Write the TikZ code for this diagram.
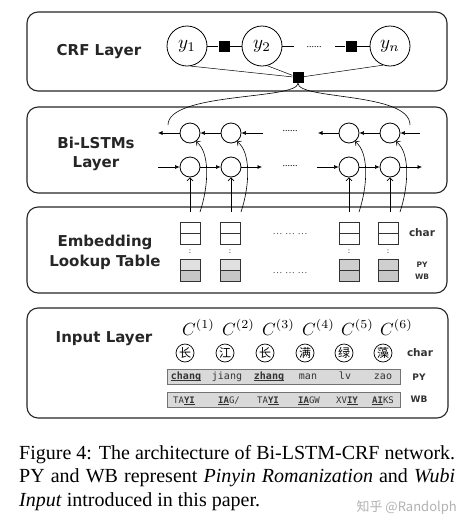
\documentclass[tikz,border=0pt]{standalone}
\usepackage{fontspec}
\setmainfont{Liberation Serif}
\newfontfamily\headfont{DejaVu Sans}
\newfontfamily\codefont{DejaVu Sans Mono}
\newfontfamily\cjkfont{Noto Sans CJK SC}
\usetikzlibrary{arrows.meta}
\newcommand\ulb[1]{\underline{\smash{\textbf{#1}}}}
\newcommand\ylab[1]{\scalebox{1.9}{$#1$}}
\begin{document}
\begin{tikzpicture}[x=1pt,y=-1pt,
  layer/.style={draw=black!85, line width=1.1pt, rounded corners=11pt, inner sep=0},
  ttl/.style={font=\headfont\bfseries\fontsize{15}{18.5}\selectfont, text=black!85, align=center, inner sep=0},
  ynode/.style={circle, draw, line width=0.8pt, minimum size=40pt, inner sep=0},
  fac/.style={fill=black, minimum size=11pt, inner sep=0},
  lstm/.style={circle, draw, line width=0.8pt, minimum size=20pt, inner sep=0},
  harr/.style={-{Latex[length=4.5pt,width=4pt]}, line width=0.6pt},
  varr/.style={-{Straight Barb[length=3pt,width=6pt]}, line width=0.6pt},
  thinl/.style={line width=0.5pt},
  cellbox/.style={draw=black!80, line width=0.8pt, minimum width=20pt, minimum height=11pt, inner sep=0},
  smlbl/.style={font=\headfont\bfseries\fontsize{10.5}{12}\selectfont, text=black!80, inner sep=0},
  tinylbl/.style={font=\headfont\bfseries\fontsize{7.5}{9}\selectfont, text=black!80, inner sep=0},
  midlbl/.style={font=\headfont\bfseries\fontsize{9}{10}\selectfont, text=black!80, inner sep=0},
  dotstxt/.style={font=\fontsize{10}{10}\selectfont, inner sep=0, anchor=base},
  chnode/.style={circle, draw, line width=0.7pt, minimum size=18pt, inner sep=0, font=\cjkfont\fontsize{12}{12}\selectfont},
  clabel/.style={inner sep=0, anchor=base west},
  codebar/.style={draw=black!55, line width=0.9pt, fill=black!15, minimum width=233pt, minimum height=15pt, inner sep=0},
  pytxt/.style={font=\codefont\fontsize{10}{10}\selectfont, text=black!80, inner sep=0, anchor=base},
  wbtxt/.style={font=\codefont\fontsize{9}{10}\selectfont, text=black!80, inner sep=0, anchor=base},
  captxt/.style={font=\fontsize{20}{23.5}\selectfont, anchor=base west, inner sep=0}]

\fill[white] (0,0) rectangle (471,531);
\useasboundingbox (0,0) rectangle (471,531);

% layer boxes
\node[layer, minimum width=420pt, minimum height=79pt] (crfbox) at (237,51.5) {};
\node[layer, minimum width=420pt, minimum height=86pt] (lstmbox) at (237,150) {};
\node[layer, minimum width=420pt, minimum height=86pt] (embbox) at (237,250) {};
\node[layer, minimum width=421pt, minimum height=110pt] (inbox) at (237.5,363) {};

% titles
\node[ttl] (tcrf) at (99,52) {CRF Layer};
\node[ttl] (tlstm) at (96,154) {Bi-LSTMs\\Layer};
\node[ttl, font=\headfont\bfseries\fontsize{15}{20}\selectfont] (temb) at (105,252) {Embedding\\Lookup Table};
\node[ttl] (tin) at (104,339) {Input Layer};

% CRF layer
\node[ynode] (y1) at (187,46) {\ylab{y_1}};
\node[ynode] (y2) at (262,46) {\ylab{y_2}};
\node[ynode] (yn) at (390,46) {\ylab{y_n}};
\node[fac] (f12) at (224,46) {};
\node[fac] (fn) at (351,46) {};
\node[fac] (ftop) at (298,77.5) {};
\coordinate (crfa) at (294,46);
\coordinate (crfb) at (335,46);
\node[dotstxt] (crfdots) at (314,47) {......};
\draw[line width=0.7pt] (y1) -- (f12) -- (y2);
\draw[line width=0.7pt] (y2) -- (crfa);
\draw[line width=0.7pt] (crfb) -- (fn) -- (yn);
\draw[thinl] (y1.-80) -- (ftop);
\draw[thinl] (y2.-75) -- (ftop);
\draw[thinl] (yn.-110) -- (ftop);

% brace from CRF to LSTM outputs
\coordinate (bupl) at (168,125);
\coordinate (bupr) at (410,125);
\draw[line width=0.6pt] (ftop.south) .. controls (298,100) and (168,92) .. (bupl);
\draw[line width=0.6pt] (ftop.south) .. controls (298,100) and (410,92) .. (bupr);

% LSTM cells
\foreach \i/\x in {1/190,2/231,3/349,4/390}{
  \node[lstm] (bw\i) at (\x,133) {};
  \node[lstm] (fw\i) at (\x,167) {};
}
\coordinate (bl) at (158,133);
\coordinate (bm1) at (263,133);
\coordinate (bm2) at (318,133);
\coordinate (br) at (420,133);
\coordinate (fl) at (158,167);
\coordinate (fm1) at (262,167);
\coordinate (fm2) at (317,167);
\coordinate (fr) at (422,167);
\draw[harr] (bm1) -- (bw2);
\draw[harr] (bw2) -- (bw1);
\draw[harr] (bw1) -- (bl);
\draw[harr] (br) -- (bw4);
\draw[harr] (bw4) -- (bw3);
\draw[harr] (bw3) -- (bm2);
\draw[harr] (fl) -- (fw1);
\draw[harr] (fw1) -- (fw2);
\draw[harr] (fw2) -- (fm1);
\draw[harr] (fm2) -- (fw3);
\draw[harr] (fw3) -- (fw4);
\draw[harr] (fw4) -- (fr);
\node[dotstxt] (ldots1) at (290,131) {......};
\node[dotstxt] (ldots2) at (290,166) {......};

% inputs to LSTM
\foreach \i/\x in {1/190,2/231,3/349,4/390}{
  \coordinate (v\i) at (\x,212);
  \coordinate (c\i) at ({\x+10},212);
  \draw[varr] (v\i) -- (fw\i.south);
  \draw[varr] (c\i) .. controls ({\x+19},185) and ({\x+20},152) .. (bw\i.-55);
}

% embedding lookup table
\foreach \i/\x/\g in {1/190/12,2/230/12,3/349/19,4/388/19}{
  \node[cellbox, fill=white] (ca\i) at (\x,227.5) {};
  \node[cellbox, fill=white] (cb\i) at (\x,238.5) {};
  \node[cellbox, fill=black!\g] (pa\i) at (\x,264.5) {};
  \node[cellbox, fill=black!22] (pb\i) at (\x,275.5) {};
  \node[font=\headfont\fontsize{7}{7}\selectfont, inner sep=0] (col\i) at (\x,252) {:};
}
\node[dotstxt, text=black!70] (edots1) at (290,234) {\dots\ \dots\ \dots};
\node[dotstxt, text=black!70] (edots2) at (290,273) {\dots\ \dots\ \dots};
\node[smlbl] (echar) at (422,233) {char};
\node[tinylbl] (epy) at (422,265) {PY};
\node[tinylbl] (ewb) at (422,277) {WB};

% input layer
\foreach \i/\x/\ch in {1/185/长,2/225/江,3/265/长,4/305/满,5/344/绿,6/383/藻}{
  \node[chnode] (ch\i) at (\x,353) {\ch};
  \node[clabel] (cc\i) at ({\x-3},335) {\scalebox{1.75}{$C^{(\i)}$}};
}
\node[smlbl] (ichar) at (420,353) {char};
\node[codebar] (pybar) at (283.5,376.5) {};
\node[codebar] (wbbar) at (283.5,399.5) {};
\node[midlbl] (ipy) at (419,377) {PY};
\node[midlbl] (iwb) at (419,399.5) {WB};

\node[pytxt] (py1) at (186,379) {\ulb{chang}};
\node[pytxt] (py2) at (227,379) {jiang};
\node[pytxt] (py3) at (269,379) {\ulb{zhang}};
\node[pytxt] (py4) at (308,379) {man};
\node[pytxt] (py5) at (345,379) {lv};
\node[pytxt] (py6) at (383,379) {zao};

\node[wbtxt] (wb1) at (184,403) {TA\ulb{YI}};
\node[wbtxt] (wb2) at (229,403) {\ulb{IA}G/};
\node[wbtxt] (wb3) at (268,403) {TA\ulb{YI}};
\node[wbtxt] (wb4) at (309,403) {\ulb{IA}GW};
\node[wbtxt] (wb5) at (347,403) {XV\ulb{IY}};
\node[wbtxt] (wb6) at (383,403) {\ulb{AI}KS};

% caption
\node[captxt] (cap1) at (19,459) {\makebox[436pt][s]{Figure 4: The architecture of Bi-LSTM-CRF network.}};
\node[captxt] (cap2) at (19,482.5) {\makebox[436pt][s]{PY and WB represent \textit{Pinyin Romanization} and \textit{Wubi}}};
\node[captxt] (cap3) at (19,506) {\textit{Input} introduced in this paper.};
\node[font=\cjkfont\fontsize{13}{13}\selectfont, text=black!30, anchor=east, inner sep=0] (wm) at (457,508) {知乎 @Randolph};
\end{tikzpicture}
\end{document}
